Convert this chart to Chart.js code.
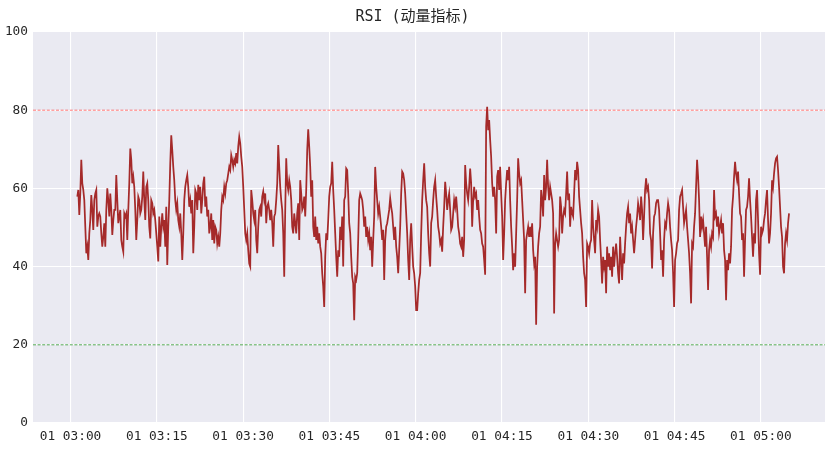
<!DOCTYPE html>
<html><head><meta charset="utf-8">
<script src="https://cdn.jsdelivr.net/npm/chart.js@4.4.1/dist/chart.umd.min.js"></script>
<style>html,body{margin:0;padding:0;background:#fff;}canvas{display:block;}</style>
</head><body>
<canvas id="c" width="831" height="449"></canvas>
<script>
const titleText = 'RSI (动量指标)';
const xTickMinutes = [0, 15, 30, 45, 60, 75, 90, 105, 120];
const xTickLabels = ['01 03:00','01 03:15','01 03:30','01 03:45','01 04:00','01 04:15','01 04:30','01 04:45','01 05:00'];
const yTickValues = [0, 20, 40, 60, 80, 100];
const overboughtLevel = 80;
const oversoldLevel = 20;
const rsiStartMinute = 1.18;   // minutes after 03:00
const rsiEndMinute = 124.9;

const rsiPart1 = [57.9,59.6,53.2,58.7,67.3,61.3,59.6,57.0,50.2,43.4,45.1,41.7,48.5,51.9,58.3,54.5,49.4,57.0,58.7,59.6,50.2,52.8,53.6,52.8,48.5,45.1,47.6,51.1,45.1,54.5,60.0,57.0,52.8,58.7,54.5,48.1,51.9,54.5,54.5,63.4,57.0,51.1,52.8,54.5,46.8,45.1,43.8,53.6,52.8,53.6,46.8,54.5,61.3,70.2,67.3,61.3,63.0,60.4,54.5,46.8,51.9,57.9,57.0,53.6,54.5,57.9,64.3,57.0,51.9,60.4,61.3,57.0,50.2,47.2,57.0,56.2,53.6,54.5,51.9,48.5,45.1,41.3,52.8,45.1,50.2,53.6,50.2,51.9];
const rsiPart2 = [45.1,55.3,40.4,50.2,57.0,66.4,73.6,69.8,65.5,62.1,57.0,54.5,56.2,51.9,50.2,53.6,48.5,41.7,48.5,57.0,60.4,62.1,63.4,60.4,55.3,57.0,53.6,57.0,43.4,50.2,59.6,58.7,54.5,60.9,57.0,60.4,53.6,57.0,61.3,63.0,55.3,57.9,52.8,54.5,48.5,50.2,53.6,46.8,51.9,45.9,50.2,49.4,45.9,47.6,45.1,48.5,54.5,57.9,57.0,60.4,58.7,61.3,62.1,63.8,65.5,64.7,68.5,67.3,65.5,67.3,66.4,69.0,66.4,70.7,73.2,71.5,68.1,65.5,60.4,54.5,48.5,46.8,48.5,44.2,40.8,40.0,59.6,57.0,53.6,51.9,54.5];
const rsiPart3 = [46.8,43.4,50.2,54.5,55.3,52.8,57.9,59.2,57.0,58.7,51.1,55.3,56.2,54.5,51.9,54.5,51.1,45.1,52.8,53.6,57.0,61.3,71.1,65.5,60.4,57.0,54.5,48.5,37.4,54.5,67.7,61.3,59.6,62.1,60.4,57.0,50.2,48.5,53.6,51.1,48.5,53.6,56.2,46.8,62.1,58.7,54.5,55.3,57.9,52.8,59.6,69.8,75.1,70.7,65.5,57.9,62.1,50.2,47.6,52.8,46.8,50.2,45.9,48.5,45.1,43.4,38.3,34.9,29.7,42.5,48.5,46.8,51.9,57.9,60.4,61.3,66.8,59.6,54.5,48.5,42.5,37.4,44.2,42.5,50.2,46.8,52.8,40.0,57.0,57.9];
const rsiPart4 = [65.1,64.7,58.7,51.1,48.5,42.5,37.4,35.7,26.3,37.4,36.6,38.3,46.8,57.0,58.7,57.9,57.0,54.5,50.2,52.8,47.6,50.2,46.8,48.5,44.2,47.6,40.0,46.8,52.8,65.5,60.4,57.0,53.6,55.3,52.8,50.2,46.8,49.4,36.6,46.8,50.2,51.1,52.8,54.5,57.5,55.3,53.6,50.2,46.8,50.2,45.1,42.5,38.3,44.2,50.2,58.7,64.3,63.8,62.1,58.7,53.6,48.5,41.7,36.6,46.8,51.1,45.1,40.0,38.3,34.9,28.9,28.9,33.2,36.6,38.3,48.5,57.0,62.1,66.4,60.4,57.0,55.3,48.5,43.4,40.0,51.1,52.8,57.0,60.4,62.1];
const rsiPart5 = [57.9,54.5,50.2,48.5,45.9,46.8,43.8,50.2,55.3,61.7,58.7,54.5,57.0,58.7,54.5,49.4,50.2,53.6,57.0,55.3,57.9,54.5,50.2,48.5,45.9,45.1,47.6,42.5,46.8,66.0,61.3,58.7,57.0,60.4,65.1,61.3,50.2,57.0,60.4,57.9,58.7,54.5,57.0,52.8,49.4,48.5,45.9,45.1,41.7,37.9,75.8,80.9,74.9,77.5,72.4,68.1,61.3,57.9,60.4,57.0,48.5,63.0,64.7,59.6,65.5,58.7,52.8,41.7,48.5,57.0,61.3,64.7,62.1,65.5,57.0,50.2,45.1,39.1,43.4,40.0,48.5,57.0,67.7,63.8,61.3,62.1,57.0,51.9,46.8,33.2];
const rsiPart6 = [46.8,48.5,50.2,47.6,50.2,47.6,51.1,44.2,40.8,42.5,25.1,40.0,45.1,48.5,50.2,59.6,57.0,52.8,63.4,57.0,60.4,67.3,60.4,57.0,60.4,58.7,57.0,53.6,28.0,45.9,48.5,46.8,45.1,46.8,57.9,55.3,48.5,52.8,54.5,53.6,58.7,64.3,57.0,58.7,50.2,55.3,53.6,52.8,58.7,64.7,62.1,66.8,64.7,57.9,54.5,51.1,48.5,42.5,38.3,36.6,29.7,45.9,45.1,43.4,45.9,46.8,57.0,50.2,46.8,43.4,51.9,50.2,54.5,52.8,46.8,41.7,35.7,42.5,40.0,41.7,33.2,45.1,40.0,43.4,39.1,42.5,37.4,45.1,40.0,43.4];
const rsiPart7 = [45.9,42.5,38.3,35.7,47.6,41.7,36.6,43.4,40.8,45.9,50.2,53.6,55.3,51.1,53.6,48.5,50.2,46.8,43.4,46.8,50.2,52.8,56.2,54.5,51.9,57.9,54.5,46.8,52.8,59.6,62.6,59.6,60.4,57.0,48.5,46.8,39.5,48.5,52.8,53.6,56.2,57.0,57.0,54.5,48.5,41.7,44.2,37.4,46.8,51.1,50.2,53.6,56.2,54.5,50.2,46.8,44.2,38.3,29.7,41.7,43.4,45.9,46.8,54.5,57.9,58.7,59.6,55.3,51.1,52.8,54.5,50.2,46.8,43.4,38.3,30.6,45.9,45.1,50.2,53.6,60.4,67.3,63.0,57.0,47.6,52.8,50.2,51.9,48.5,45.1];
const rsiPart8 = [50.2,42.5,34.0,44.2,46.8,45.1,48.5,47.6,59.6,52.8,53.6,50.2,52.8,48.5,50.2,51.9,48.5,51.1,44.2,41.7,31.4,41.7,39.1,43.4,40.8,45.1,54.5,57.9,63.0,66.8,63.8,62.1,64.3,58.7,53.6,52.8,46.8,48.5,37.4,46.8,54.5,55.3,57.9,62.6,57.0,52.8,47.6,42.5,48.5,45.9,57.0,59.6,51.9,43.4,37.9,50.2,48.5,49.4,51.9,53.6,57.0,59.6,51.9,45.9,48.5,53.6,62.1,60.4,63.8,66.4,67.7,68.1,64.7,60.4,55.3,50.2,47.6,40.0,38.3,45.9,48.5,46.8,51.1,53.6];

const rsiValues = [].concat(rsiPart1, rsiPart2, rsiPart3, rsiPart4, rsiPart5, rsiPart6, rsiPart7, rsiPart8);
const stepMin = (rsiEndMinute - rsiStartMinute) / (rsiValues.length - 1);
const rsiPoints = rsiValues.map((v, i) => ({x: rsiStartMinute + i * stepMin, y: v}));

const X_MIN = -6.52, X_MAX = 131.15;
const tickFont = {family: "'DejaVu Sans Mono', 'Noto Sans CJK SC', monospace", size: 12.8};

const bgPlugin = {
  id: 'bg',
  beforeDraw(chart) {
    const {ctx, chartArea: a} = chart;
    ctx.save();
    ctx.fillStyle = '#EAEAF2';
    ctx.fillRect(a.left, a.top, a.right - a.left, a.bottom - a.top);
    ctx.restore();
  }
};

new Chart(document.getElementById('c'), {
  type: 'line',
  data: {
    datasets: [
      {data: rsiPoints, borderColor: 'rgb(165,42,42)', borderWidth: 1.75, pointRadius: 0, tension: 0, order: 2},
      {data: [{x: X_MIN, y: overboughtLevel}, {x: X_MAX, y: overboughtLevel}], borderColor: 'rgba(255,0,0,0.6)', borderWidth: 0.9, borderDash: [3, 1.6], pointRadius: 0, order: 1},
      {data: [{x: X_MIN, y: oversoldLevel}, {x: X_MAX, y: oversoldLevel}], borderColor: 'rgba(0,128,0,0.75)', borderWidth: 0.9, borderDash: [3, 1.6], pointRadius: 0, order: 1}
    ]
  },
  options: {
    responsive: false,
    animation: false,
    layout: {padding: {left: 0, right: 6, top: 0, bottom: 0}},
    plugins: {
      legend: {display: false},
      tooltip: {enabled: false},
      title: {
        display: true, text: titleText, color: '#262626',
        font: {family: "'DejaVu Sans Mono', 'Noto Sans CJK SC', sans-serif", size: 15, weight: 'normal', lineHeight: 1.2},
        padding: {top: 8, bottom: 6}
      }
    },
    scales: {
      x: {
        type: 'linear', min: X_MIN, max: X_MAX,
        afterBuildTicks(scale) { scale.ticks = xTickMinutes.map(v => ({value: v})); },
        afterFit(scale) { scale.height = 26; },
        ticks: {
          color: '#262626', font: tickFont, padding: 6, maxRotation: 0, autoSkip: false,
          callback: (v, i) => xTickLabels[i]
        },
        grid: {color: '#FFFFFF', lineWidth: 1.1, drawTicks: false},
        border: {display: false}
      },
      y: {
        min: 0, max: 100,
        afterBuildTicks(scale) { scale.ticks = yTickValues.map(v => ({value: v})); },
        afterFit(scale) { scale.width = 33; },
        ticks: {color: '#262626', font: tickFont, padding: 5, callback: v => String(v)},
        grid: {color: '#FFFFFF', lineWidth: 1.1, drawTicks: false},
        border: {display: false}
      }
    }
  },
  plugins: [bgPlugin]
});
</script>
</body></html>
